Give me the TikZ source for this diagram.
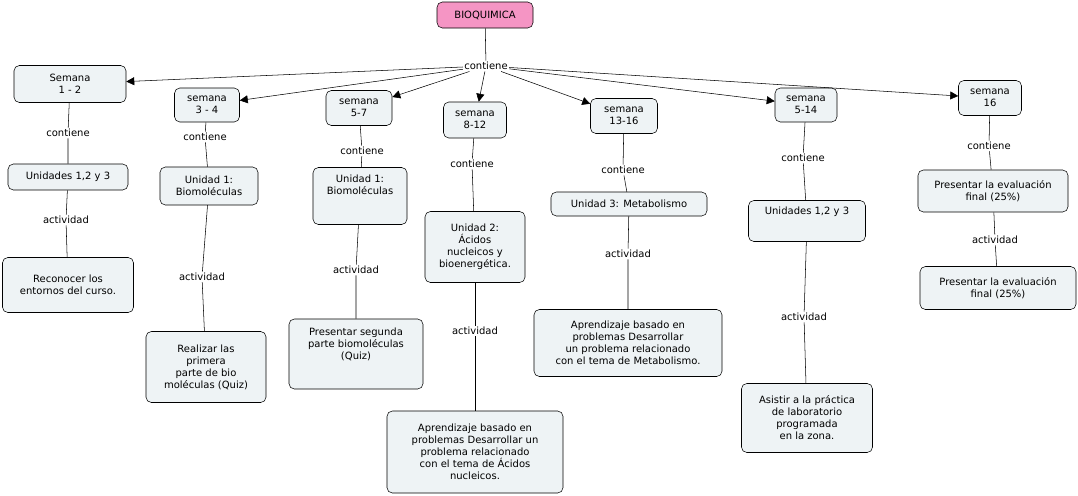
\documentclass[tikz,border=0pt]{standalone}
\usepackage{fontspec}
\setmainfont{DejaVu Sans}
\usetikzlibrary{arrows.meta, positioning}
\definecolor{boxfill}{HTML}{EEF3F5}
\definecolor{topfill}{HTML}{F595C4}

\begin{document}
\begin{tikzpicture}[x=0.75pt, y=-0.75pt,
        concept/.style={draw, rounded corners=4pt, fill=boxfill, align=center, inner sep=2pt, font=\fontsize{7.5}{9}\selectfont},
        root/.style={concept, fill=topfill},
        link/.style={fill=white, inner sep=1pt, font=\fontsize{7.5}{9}\selectfont},
        line/.style={-, thin},
        arrow/.style={-{Triangle[length=6pt, width=6pt]}, thin}
    ]
        \useasboundingbox (0,0) rectangle (1078,496);
        % Root
        \node[root, minimum width=96*0.75pt, minimum height=26*0.75pt] (bio) at (485,15) {BIOQUIMICA};
        \node[link] (cont) at (486,66) {contiene};
        \draw[line] (bio) -- (cont);

        % Weeks
        \node[concept, minimum width=112*0.75pt, minimum height=37*0.75pt] (s1) at (70,84) {Semana\\1 - 2};
        \node[concept, minimum width=65*0.75pt, minimum height=34*0.75pt] (s2) at (207,105) {semana\\3 - 4};
        \node[concept, minimum width=66*0.75pt, minimum height=35*0.75pt] (s3) at (359,108) {semana\\5-7};
        \node[concept, minimum width=63*0.75pt, minimum height=36*0.75pt] (s4) at (475,120) {semana\\8-12};
        \node[concept, minimum width=67*0.75pt, minimum height=35*0.75pt] (s5) at (624,116) {semana\\13-16};
        \node[concept, minimum width=62*0.75pt, minimum height=34*0.75pt] (s6) at (806,105) {semana\\5-14};
        \node[concept, minimum width=63*0.75pt, minimum height=35*0.75pt] (s7) at (990,98) {semana\\16};
        \foreach \s in {s1,s2,s3,s4,s5,s6,s7}
            \draw[arrow] (cont) -- (\s);

        % Units
        \node[concept, minimum width=120*0.75pt, minimum height=26*0.75pt] (u1) at (68,177) {Unidades 1,2 y 3};
        \node[concept, minimum width=98*0.75pt, minimum height=38*0.75pt] (u2) at (209,186) {Unidad 1:\\Biomoléculas};
        \node[concept, minimum width=94*0.75pt, minimum height=57*0.75pt] (u3) at (360,196) {Unidad 1:\\Biomoléculas\\[8pt]};
        \node[concept, minimum width=100*0.75pt, minimum height=71*0.75pt] (u4) at (475,247) {Unidad 2:\\Ácidos\\nucleicos y\\bioenergética.};
        \node[concept, minimum width=156*0.75pt, minimum height=24*0.75pt] (u5) at (629,204) {Unidad 3: Metabolismo};
        \node[concept, minimum width=117*0.75pt, minimum height=41*0.75pt] (u6) at (807,221) {Unidades 1,2 y 3\\[6pt]};
        \node[concept, minimum width=150*0.75pt, minimum height=42*0.75pt] (u7) at (993,191) {Presentar la evaluación\\final (25\%)};

        % Activities
        \node[concept, minimum width=131*0.75pt, minimum height=55*0.75pt] (a1) at (68,285) {Reconocer los\\entornos del curso.};
        \node[concept, minimum width=120*0.75pt, minimum height=71*0.75pt] (a2) at (206,367) {Realizar las\\primera\\parte de bio\\moléculas (Quiz)};
        \node[concept, minimum width=134*0.75pt, minimum height=70*0.75pt] (a3) at (356,354) {Presentar segunda\\parte biomoléculas\\(Quiz)\\[6pt]};
        \node[concept, minimum width=176*0.75pt, minimum height=82*0.75pt] (a4) at (475,452) {Aprendizaje basado en\\problemas Desarrollar un\\problema relacionado\\con el tema de Ácidos\\nucleicos.};
        \node[concept, minimum width=188*0.75pt, minimum height=67*0.75pt] (a5) at (628,343) {Aprendizaje basado en\\problemas Desarrollar\\un problema relacionado\\con el tema de Metabolismo.};
        \node[concept, minimum width=131*0.75pt, minimum height=69*0.75pt] (a6) at (807,418) {Asistir a la práctica\\de laboratorio\\programada\\en la zona.};
        \node[concept, minimum width=156*0.75pt, minimum height=43*0.75pt] (a7) at (998,288) {Presentar la evaluación\\final (25\%)};

        % Link labels
        \node[link] (c1) at (68,133) {contiene};
        \node[link] (c2) at (205,137) {contiene};
        \node[link] (c3) at (362,151) {contiene};
        \node[link] (c4) at (472,164) {contiene};
        \node[link] (c5) at (623,170) {contiene};
        \node[link] (c6) at (803,158) {contiene};
        \node[link] (c7) at (989,146) {contiene};
        \node[link] (d1) at (66,220) {actividad};
        \node[link] (d2) at (202,277) {actividad};
        \node[link] (d3) at (356,270) {actividad};
        \node[link] (d4) at (475,331) {actividad};
        \node[link] (d5) at (628,254) {actividad};
        \node[link] (d6) at (804,317) {actividad};
        \node[link] (d7) at (995,240) {actividad};
        \foreach \i in {1,...,7} {
            \draw[line] (s\i) -- (c\i) -- (u\i);
            \draw[line] (u\i) -- (d\i) -- (a\i);
        }
    \end{tikzpicture}
\end{document}
